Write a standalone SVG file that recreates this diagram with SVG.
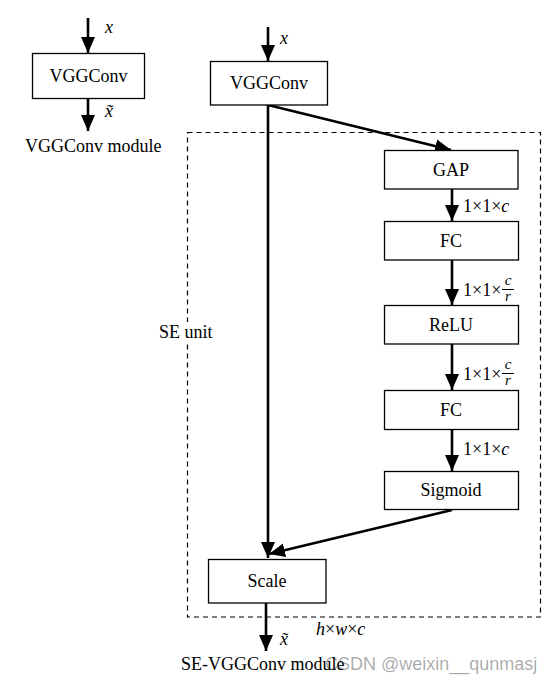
<svg xmlns="http://www.w3.org/2000/svg" width="558" height="688" viewBox="0 0 558 688">
<style>
.box{fill:#fff;stroke:#000;stroke-width:1.3}
.t{font-family:"Liberation Serif","Times New Roman",serif;font-size:18px;fill:#000}
.m{font-family:"Liberation Serif","Times New Roman",serif;font-size:18px;fill:#000}
.f{font-family:"Liberation Serif","Times New Roman",serif;font-size:15px;font-style:italic;fill:#000;text-anchor:middle}
.i{font-style:italic}
.c{text-anchor:middle}
.ln{stroke:#000;stroke-width:2.6;fill:none}
</style>
<defs>
<marker id="ah" markerUnits="userSpaceOnUse" markerWidth="16" markerHeight="16" viewBox="0 0 16 16" refX="16" refY="8" orient="auto">
<path d="M0,1 L16,8 L0,15 Z" fill="#000"/>
</marker>
</defs>
<rect width="558" height="688" fill="#fff"/>

<!-- SE unit dashed boundary -->
<g id="se-unit">
<rect x="187.5" y="132.5" width="353" height="484.5" fill="none" stroke="#000" stroke-width="1.2" stroke-dasharray="5,4"/>
<rect x="158" y="322" width="58" height="22" fill="#fff"/>
<text class="t" x="159" y="338">SE unit</text>
</g>

<g id="connectors">
<line class="ln" x1="88" y1="18" x2="88" y2="53" marker-end="url(#ah)"/>
<line class="ln" x1="88" y1="99" x2="88" y2="131" marker-end="url(#ah)"/>
<line class="ln" x1="268" y1="27" x2="268" y2="61" marker-end="url(#ah)"/>
<line class="ln" x1="268" y1="105" x2="451" y2="150" marker-end="url(#ah)"/>
<line class="ln" x1="268" y1="105" x2="268" y2="558" marker-end="url(#ah)"/>
<line class="ln" x1="452" y1="189" x2="452" y2="221" marker-end="url(#ah)"/>
<line class="ln" x1="452" y1="260" x2="452" y2="305" marker-end="url(#ah)"/>
<line class="ln" x1="452" y1="344" x2="452" y2="390" marker-end="url(#ah)"/>
<line class="ln" x1="452" y1="430" x2="452" y2="471" marker-end="url(#ah)"/>
<line class="ln" x1="452" y1="510" x2="269" y2="554" marker-end="url(#ah)"/>
<line class="ln" x1="266" y1="603" x2="266" y2="651" marker-end="url(#ah)"/>
</g>

<g id="vggconv-left">
<rect class="box" x="32.5" y="53.5" width="112" height="45"/>
<text class="t c" x="88.5" y="82">VGGConv</text>
<text class="t i" x="105" y="33">x</text>
<text class="t i" x="105" y="117">x̃</text>
<text class="t" x="25" y="152">VGGConv module</text>
</g>

<g id="vggconv">
<rect class="box" x="210.5" y="61.5" width="117" height="43.5"/>
<text class="t c" x="269" y="89">VGGConv</text>
<text class="t i" x="280" y="44">x</text>
</g>

<g id="gap">
<rect class="box" x="384.5" y="150.5" width="133.5" height="38.5"/>
<text class="t c" x="451" y="176">GAP</text>
</g>
<text class="m" x="463" y="212">1×1×<tspan class="i">c</tspan></text>

<g id="fc1">
<rect class="box" x="384.5" y="221.5" width="134" height="38.5"/>
<text class="t c" x="451" y="247">FC</text>
</g>
<g id="lbl-fc1">
<text class="m" x="463" y="296">1×1×</text>
<text class="f" x="508" y="285">c</text>
<line x1="502" y1="289.5" x2="514" y2="289.5" stroke="#000" stroke-width="1"/>
<text class="f" x="508" y="301">r</text>
</g>

<g id="relu">
<rect class="box" x="384.5" y="305.5" width="134" height="38.5"/>
<text class="t c" x="451" y="331">ReLU</text>
</g>
<g id="lbl-relu">
<text class="m" x="463" y="380">1×1×</text>
<text class="f" x="508" y="369">c</text>
<line x1="502" y1="373.5" x2="514" y2="373.5" stroke="#000" stroke-width="1"/>
<text class="f" x="508" y="385">r</text>
</g>

<g id="fc2">
<rect class="box" x="384.5" y="390.5" width="134" height="39"/>
<text class="t c" x="451" y="416">FC</text>
</g>
<text class="m" x="463" y="455">1×1×<tspan class="i">c</tspan></text>

<g id="sigmoid">
<rect class="box" x="384.5" y="471.5" width="134" height="38"/>
<text class="t c" x="451" y="496">Sigmoid</text>
</g>

<g id="scale">
<rect class="box" x="208.5" y="559.5" width="117.5" height="43.5"/>
<text class="t c" x="267" y="587">Scale</text>
</g>

<text class="t i" x="280" y="645">x̃</text>
<text class="m i" x="316" y="635">h<tspan style="font-style:normal">×</tspan>w<tspan style="font-style:normal">×</tspan>c</text>
<text class="t" x="181" y="670">SE-VGGConv module</text>
<text x="325" y="670" style="font-family:'Liberation Sans',Arial,sans-serif;font-size:18px;fill:#000;fill-opacity:0.35">CSDN @weixin__qunmasj</text>
</svg>
